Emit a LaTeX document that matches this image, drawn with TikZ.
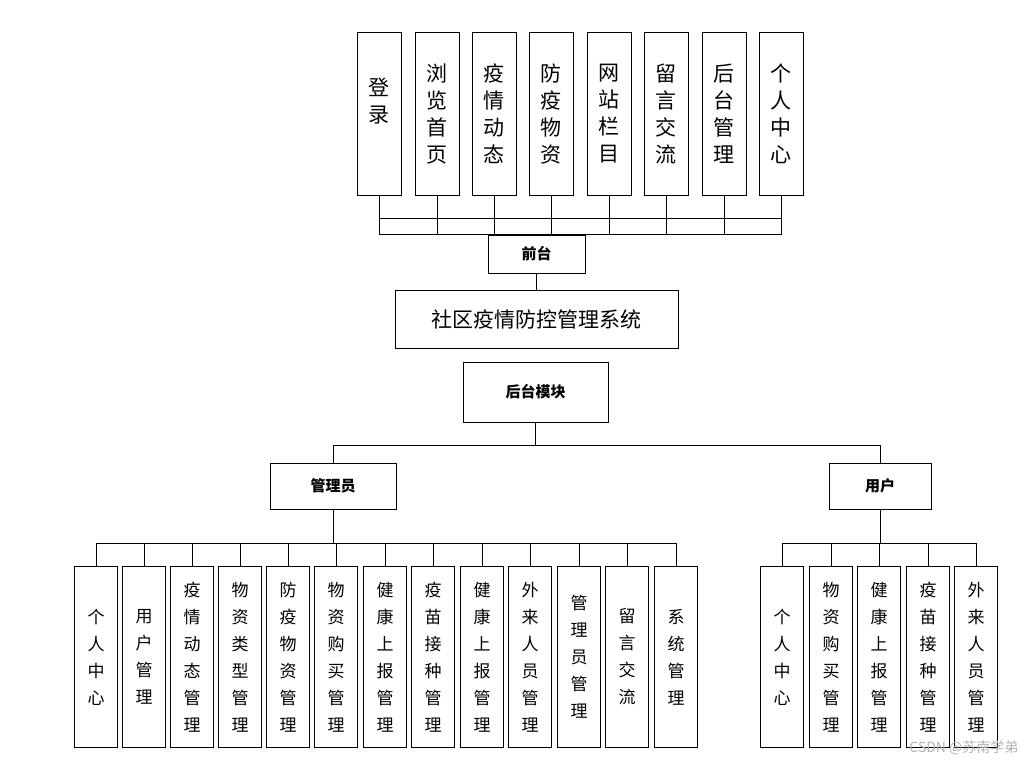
\documentclass[tikz,border=0pt]{standalone}
\usepackage{fontspec}
\newfontfamily\cjk{Noto Sans CJK SC}
\usepackage{tikz}
\begin{document}
\begin{tikzpicture}[x=1pt,y=-1pt,
  box/.style={draw, line width=0.9pt, inner sep=0pt, align=center},
  topbox/.style={box, minimum width=44pt, minimum height=163pt, font=\cjk\fontsize{21}{27}\selectfont},
  lowbox/.style={box, minimum width=43pt, minimum height=181pt, font=\cjk\fontsize{17}{27}\selectfont},
  head/.style={box, font=\cjk\bfseries\fontsize{15}{18}\selectfont},
  wire/.style={line width=0.9pt}]
\useasboundingbox (0,0) rectangle (1032,768);
% Paths, nodes and wires:
\node[head, minimum width=97pt, minimum height=38pt] (front) at (536.5,254){前台};
\node[box, minimum width=283pt, minimum height=58pt, font=\cjk\fontsize{21}{24}\selectfont] (sys) at (536.5,319){社区疫情防控管理系统};
\node[head, minimum width=145pt, minimum height=60pt] (back) at (535.5,392){后台模块};
\node[head, minimum width=126pt, minimum height=46pt] (admin) at (333,486){管理员};
\node[head, minimum width=102pt, minimum height=46pt] (user) at (880,486){用户};
\foreach \x/\t [count=\i] in {379/登\\录\\/\\注\\册, 437/浏\\览\\首\\页, 494/疫\\情\\动\\态, 551/防\\疫\\物\\资,
    609/网\\站\\栏\\目, 666/留\\言\\交\\流, 724/后\\台\\管\\理, 781/个\\人\\中\\心}{
  \node[topbox, anchor=north] (t\i) at (\x,32){\t};
  \draw[wire] (t\i.south) |- (front.north);
}
\draw[wire] (t1.south) -- ++(0,23) -| (t8.south);
\draw[wire] (front) -- (sys);
\draw[wire] (back.south) -- ++(0,23) -| (admin.north);
\draw[wire] (back.south) -- ++(0,23) -| (user.north);
\foreach \x/\t [count=\i] in {96/个\\人\\中\\心, 144/用\\户\\管\\理, 192/疫\\情\\动\\态\\管\\理, 240/物\\资\\类\\型\\管\\理,
    288/防\\疫\\物\\资\\管\\理, 336/物\\资\\购\\买\\管\\理, 385/健\\康\\上\\报\\管\\理, 433/疫\\苗\\接\\种\\管\\理,
    482/健\\康\\上\\报\\管\\理, 530/外\\来\\人\\员\\管\\理, 579/管\\理\\员\\管\\理, 627/留\\言\\交\\流, 676/系\\统\\管\\理}{
  \node[lowbox, anchor=north] (a\i) at (\x,566){\t};
  \draw[wire] (a\i.north) -- ++(0,-23);
}
\draw[wire] (a1.north) ++(0,-23) -| (a13.north);
\draw[wire] (admin.south) -- ++(0,34);
\foreach \x/\t [count=\i] in {782/个\\人\\中\\心, 831/物\\资\\购\\买\\管\\理, 879/健\\康\\上\\报\\管\\理,
    928/疫\\苗\\接\\种\\管\\理, 976/外\\来\\人\\员\\管\\理}{
  \node[lowbox, anchor=north] (u\i) at (\x,566){\t};
  \draw[wire] (u\i.north) -- ++(0,-23);
}
\draw[wire] (u1.north) ++(0,-23) -| (u5.north);
\draw[wire] (user.south) -- ++(0,34);
\node[text=gray!60, font=\cjk\fontsize{14}{16}\selectfont, anchor=east] (mark) at (1022,748){CSDN @苏南学弟};
\end{tikzpicture}
\end{document}
